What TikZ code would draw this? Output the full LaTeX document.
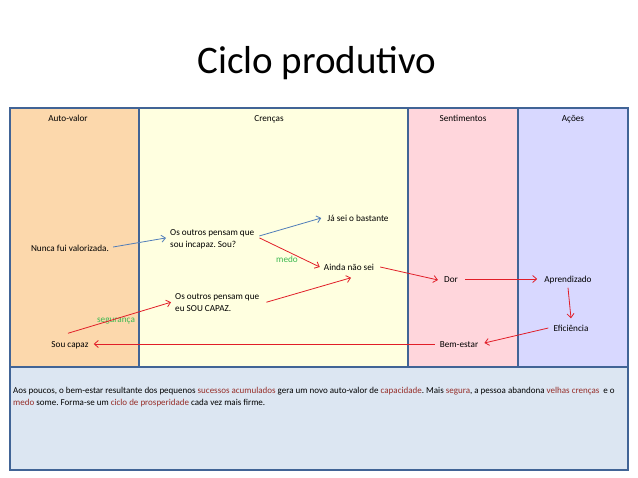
\documentclass[tikz,border=0pt]{standalone}
\usepackage{fontspec}
\setmainfont{Carlito}
\usetikzlibrary{positioning,arrows.meta}
\definecolor{framecol}{RGB}{65,100,150}
\definecolor{autocol}{RGB}{252,216,172}
\definecolor{crencol}{RGB}{255,255,224}
\definecolor{sentcol}{RGB}{255,214,220}
\definecolor{acaocol}{RGB}{216,216,255}
\definecolor{notecol}{RGB}{220,230,242}
\definecolor{bluearr}{RGB}{80,125,185}
\definecolor{redarr}{RGB}{225,30,40}
\definecolor{greentxt}{RGB}{60,185,80}
\definecolor{hilite}{RGB}{150,45,40}
\frenchspacing

\begin{document}
\begin{tikzpicture}
        [x=1pt,y=-1pt,
         panel/.style={draw=framecol, line width=1.2pt},
         label/.style={font=\fontsize{9.2}{12}\selectfont, inner sep=1pt, text height=1.6ex, text depth=.3ex},
         info/.style={font=\fontsize{9.2}{12}\selectfont, inner sep=1pt, align=left, anchor=north west},
         tag/.style={label, text=greentxt},
         blue flow/.style={->, draw=bluearr, thick, >={Straight Barb[length=4pt,width=7pt]}},
         red flow/.style={->, draw=redarr, thick, >={Straight Barb[length=4pt,width=7pt]}}]
        \useasboundingbox (0,0) rectangle (638,478);
        \node[font=\fontsize{39}{46}\selectfont] (title) at (317,63) {Ciclo produtivo};
        % columns
        \fill[autocol] (10,108) rectangle (139,367);
        \fill[crencol] (139,108) rectangle (408,367);
        \fill[sentcol] (408,108) rectangle (518,367);
        \fill[acaocol] (518,108) rectangle (628,367);
        \fill[notecol] (10,367) rectangle (628,470);
        \draw[panel] (10,108) rectangle (628,367);
        \draw[panel] (139,108) -- (139,367);
        \draw[panel] (408,108) -- (408,367);
        \draw[panel] (518,108) -- (518,367);
        \draw[panel] (10,367) rectangle (628,470);
        \node[label] (hauto) at (68,118) {Auto-valor};
        \node[label] (hcren) at (269,118) {Crenças};
        \node[label] (hsent) at (463,118) {Sentimentos};
        \node[label] (hacao) at (573,118) {Ações};
        % nodes
        \node[label] (nunca) at (70,248) {Nunca fui valorizada.};
        \node[info] (incapaz) at (169,228) {Os outros pensam que\\sou incapaz. Sou?};
        \node[label] (jasei) at (358,218) {Já sei o bastante};
        \node[label] (ainda) at (349,267) {Ainda não sei};
        \node[info] (capaz) at (174,292) {Os outros pensam que\\eu SOU CAPAZ.};
        \node[label] (soucapaz) at (70,344) {Sou capaz};
        \node[label] (dor) at (451,279) {Dor};
        \node[label] (aprend) at (568,279) {Aprendizado};
        \node[label] (efic) at (571,328) {Eficiência};
        \node[label] (bem) at (459,344) {Bem-estar};
        \node[tag] (medo) at (287,259) {medo};
        \node[tag] (seguranca) at (116,319) {segurança};
        % arrows
        \draw[blue flow] ([xshift=3pt,yshift=1pt]nunca.east) -- ([xshift=-3pt,yshift=1pt]incapaz.west);
        \draw[blue flow] ([xshift=4pt,yshift=3pt]incapaz.east) -- ([xshift=-5pt]jasei.west);
        \draw[red flow] ([xshift=4pt,yshift=1pt]incapaz.east) -- ([xshift=-3pt]ainda.west);
        \draw[red flow] ([xshift=6pt]capaz.east) -- ([xshift=2pt,yshift=-5pt]ainda.south);
        \draw[red flow] ([xshift=-2pt,yshift=5pt]soucapaz.north) -- ([xshift=-3pt]capaz.west);
        \draw[red flow] ([xshift=5pt]ainda.east) -- ([xshift=-5pt,yshift=-1pt]dor.west);
        \draw[red flow] ([xshift=6pt]dor.east) -- ([xshift=-6pt]aprend.west);
        \draw[red flow] ([yshift=-3pt]aprend.south) -- ([yshift=4pt]efic.north);
        \draw[red flow] ([xshift=-4pt]efic.west) -- ([xshift=5pt,yshift=1pt]bem.east);
        \draw[red flow] ([xshift=-4pt]bem.west) -- ([xshift=4pt]soucapaz.east);
        % summary
        \node[anchor=north west, inner sep=0pt, align=left,
          font=\fontsize{9}{12}\selectfont] (resumo) at (13,387)
          {Aos poucos, o bem-estar resultante dos pequenos \textcolor{hilite}{sucessos acumulados} gera um novo auto-valor de \textcolor{hilite}{capacidade}. Mais \textcolor{hilite}{segura}, a pessoa abandona \textcolor{hilite}{velhas crenças}\ \ e o\\\textcolor{hilite}{medo} some. Forma-se um \textcolor{hilite}{ciclo de prosperidade} cada vez mais firme.};
      \end{tikzpicture}
\end{document}
